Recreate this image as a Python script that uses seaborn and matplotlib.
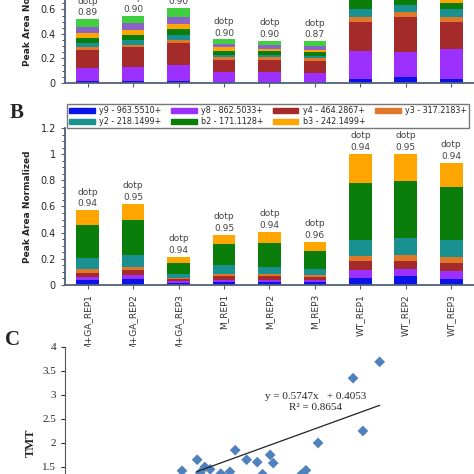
import numpy as np
import pandas as pd
import matplotlib
matplotlib.use("Agg")
import matplotlib.pyplot as plt
from matplotlib.patches import Patch
from matplotlib.ticker import MultipleLocator
import seaborn as sns

samples = ["M+GA_REP1", "M+GA_REP2", "M+GA_REP3", "M_REP1", "M_REP2", "M_REP3",
           "WT_REP1", "WT_REP2", "WT_REP3"]
ions = ["y9 - 963.5510+", "y8 - 862.5033+", "y4 - 464.2867+", "y3 - 317.2183+",
        "y2 - 218.1499+", "b2 - 171.1128+", "b3 - 242.1499+"]
colors = ["#0a14e6", "#9b30ff", "#a52a2a", "#e0782a", "#199191", "#0a7d0a", "#ffa500"]
colors_a = colors + ["#8a62c8", "#3fcf3f"]

# panel A segment heights (bottom to top), one row per sample
seg_a = [
    [0.02, 0.10, 0.15, 0.02, 0.04, 0.04, 0.04, 0.05, 0.06],
    [0.02, 0.11, 0.16, 0.02, 0.04, 0.04, 0.04, 0.06, 0.06],
    [0.02, 0.13, 0.18, 0.02, 0.04, 0.05, 0.04, 0.06, 0.07],
    [0.01, 0.08, 0.10, 0.02, 0.02, 0.03, 0.03, 0.03, 0.035],
    [0.01, 0.08, 0.10, 0.02, 0.02, 0.03, 0.02, 0.03, 0.035],
    [0.01, 0.07, 0.10, 0.02, 0.02, 0.03, 0.02, 0.035, 0.035],
    [0.035, 0.23, 0.235, 0.04, 0.06, 0.12, 0.08, 0.09, 0.10],
    [0.045, 0.205, 0.29, 0.04, 0.06, 0.10, 0.08, 0.09, 0.10],
    [0.035, 0.245, 0.22, 0.035, 0.065, 0.055, 0.06, 0.08, 0.08],
]
dotp_a = ["0.89", "0.90", "0.90", "0.90", "0.90", "0.87", "0.94", "0.93", "0.93"]

seg_b = [
    [0.04, 0.02, 0.03, 0.03, 0.085, 0.25, 0.115],
    [0.045, 0.03, 0.035, 0.03, 0.09, 0.265, 0.125],
    [0.015, 0.015, 0.015, 0.01, 0.03, 0.08, 0.05],
    [0.02, 0.02, 0.025, 0.02, 0.065, 0.16, 0.075],
    [0.02, 0.02, 0.03, 0.015, 0.055, 0.18, 0.085],
    [0.02, 0.02, 0.02, 0.015, 0.05, 0.135, 0.07],
    [0.055, 0.055, 0.07, 0.04, 0.125, 0.435, 0.22],
    [0.065, 0.055, 0.065, 0.04, 0.135, 0.435, 0.205],
    [0.045, 0.06, 0.065, 0.04, 0.13, 0.41, 0.185],
]
dotp_b = ["0.94", "0.95", "0.94", "0.95", "0.94", "0.96", "0.94", "0.95", "0.94"]

# panel C scatter
skyline_x = [4.14, 3.79, 3.92, 3.33, 2.24, 1.74, 2.39, 2.53, 2.70, 2.74, 1.84, 1.91,
             1.54, 2.17, 3.17, 1.78, 2.05, 2.60, 3.10]
tmt_y = [3.69, 3.35, 2.25, 2.00, 1.85, 1.65, 1.65, 1.60, 1.75, 1.58, 1.50, 1.45,
         1.42, 1.40, 1.43, 1.38, 1.36, 1.35, 1.33]
slope, intercept = 0.5747, 0.4053

sns.set_style("ticks")
fig = plt.figure(figsize=(4.74, 4.74), dpi=100)


def stacked(ax, segs, cols, dotp):
    segs = np.array(segs)
    cum = np.cumsum(segs, axis=1)
    for k in range(segs.shape[1] - 1, -1, -1):
        df = pd.DataFrame({"s": samples, "v": cum[:, k]})
        sns.barplot(data=df, x="s", y="v", color=cols[k], width=0.5, ax=ax,
                    saturation=1, linewidth=0)
    for i, t in enumerate(cum[:, -1]):
        ax.text(i, t + 0.015, "dotp\n" + dotp[i], ha="center", va="bottom",
                fontsize=6.5, color="#444444", linespacing=1.4)
    ax.set_xlim(-0.5, 8.5)
    ax.set_ylim(0, 1.2)
    ax.yaxis.set_minor_locator(MultipleLocator(0.05))
    ax.set_yticks([0, 0.2, 0.4, 0.6, 0.8, 1.0, 1.2])
    ax.set_yticklabels(["0", "0.2", "0.4", "0.6", "0.8", "1", "1.2"], fontsize=7)
    ax.set_ylabel("Peak Area Normalized", fontsize=6.5, fontweight="bold")
    ax.yaxis.set_label_coords(-0.08, 0.5)
    for s in ["top", "right"]:
        ax.spines[s].set_visible(False)
    for s in ["left", "bottom"]:
        ax.spines[s].set_color("#50607a")
        ax.spines[s].set_linewidth(1.3)
    ax.tick_params(length=3, color="#50607a")
    ax.set_xlabel("")


axA = fig.add_axes([0.137, 0.825, 0.863, 0.31])
stacked(axA, seg_a, colors_a, dotp_a)
axA.set_xticklabels([])

axB = fig.add_axes([0.137, 0.399, 0.863, 0.331])
stacked(axB, seg_b, colors, dotp_b)
axB.set_xticks(range(9))
axB.set_xticklabels(samples, rotation=90, fontsize=6.5, color="#333333")

# legend filled row by row (matplotlib fills columns first)
order = [0, 4, 1, 5, 2, 6, 3]
handles = [Patch(color=colors[i], label=ions[i]) for i in order]
fig.legend(handles=handles, ncol=4, fontsize=5.8, loc="center",
           bbox_to_anchor=(0.565, 0.755), frameon=True, fancybox=False,
           edgecolor="#555555", handlelength=3.2, handleheight=0.6,
           columnspacing=1.2, borderpad=0.3, labelspacing=0.2, handletextpad=0.5)

axC = fig.add_axes([0.137, -0.137, 0.85, 0.405])
sns.scatterplot(x=skyline_x, y=tmt_y, marker="D", color="#4f81bd", s=30,
                edgecolor="none", ax=axC)
xs = np.array([1.73, 4.14])
axC.plot(xs, slope * xs + intercept, color="#222222", lw=0.9)
axC.set_xlim(0, 5.3)
axC.set_ylim(0, 4)
axC.set_yticks(np.arange(0, 4.01, 0.5))
axC.set_yticklabels(["0", "0.5", "1", "1.5", "2", "2.5", "3", "3.5", "4"],
                    fontsize=8, family="Liberation Serif")
axC.set_xticks([])
axC.set_ylabel("TMT", fontsize=9, fontweight="bold", family="Liberation Serif")
for s in ["top", "right"]:
    axC.spines[s].set_visible(False)
axC.spines["left"].set_color("#555555")
axC.tick_params(length=3)
axC.text(3.3, 2.85, "y = 0.5747x   + 0.4053\nR² = 0.8654", ha="center", va="center",
         fontsize=8, family="Liberation Serif", linespacing=1.3)

fig.text(0.02, 0.762, "B", fontsize=15, fontweight="bold", family="Liberation Serif",
         va="center")
fig.text(0.01, 0.283, "C", fontsize=15, fontweight="bold", family="Liberation Serif",
         va="center")

fig.savefig("out.png", dpi=100)
